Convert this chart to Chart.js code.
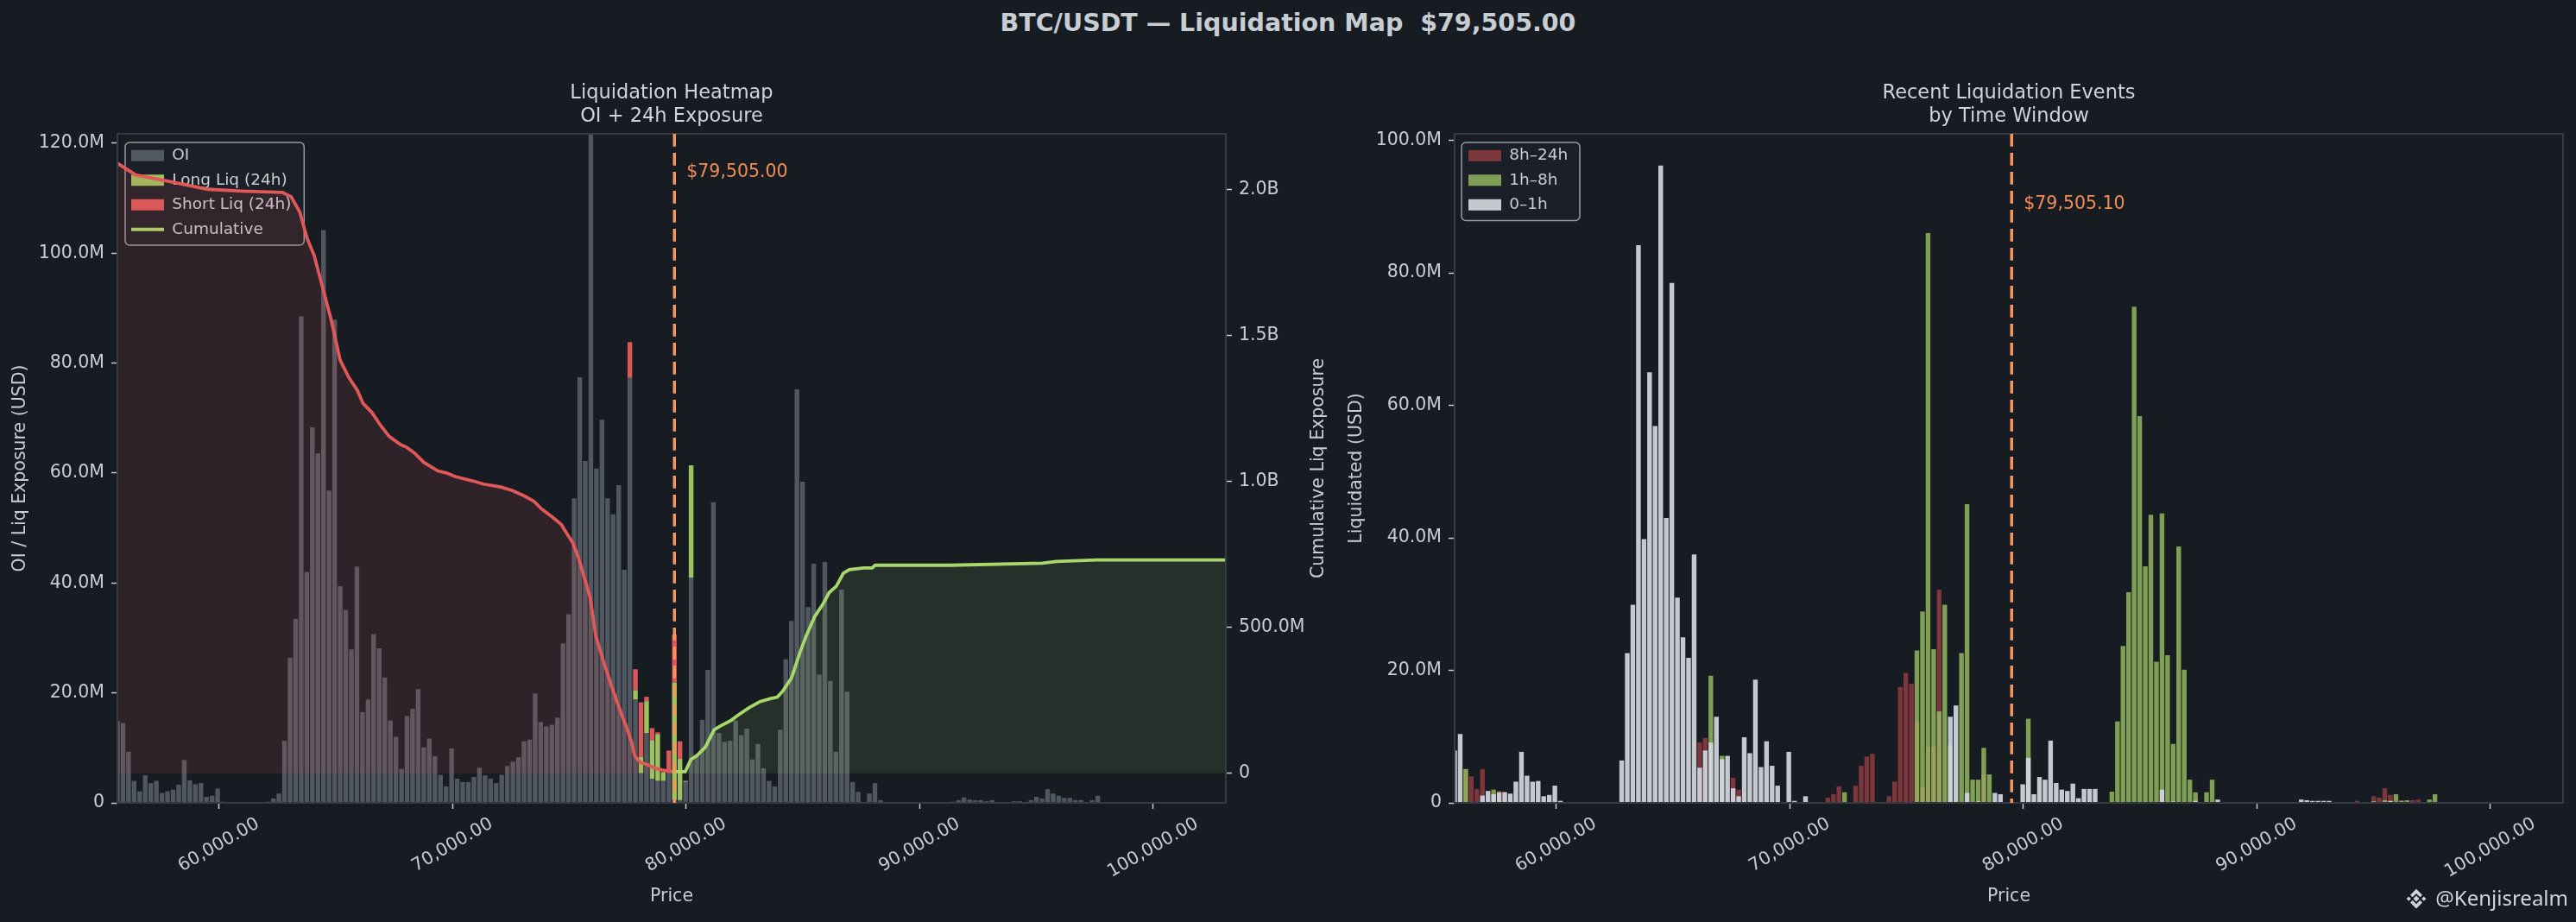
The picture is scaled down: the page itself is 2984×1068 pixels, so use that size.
<!DOCTYPE html>
<html>
<head>
<meta charset="utf-8">
<script src="https://cdn.jsdelivr.net/npm/chart.js@4.4.1/dist/chart.umd.min.js"></script>
<style>
html, body { margin: 0; padding: 0; background: #171b22; }
body { width: 2984px; height: 1068px; position: relative; overflow: hidden; font-family: "DejaVu Sans"; }
#title { position: absolute; left: 0; top: 13px; width: 2984px; text-align: center; white-space: pre;
         font: bold 28.5px/28.5px "DejaVu Sans"; color: #c8cdd4; }
#heat { position: absolute; left: 0; top: 60px; width: 1560px; height: 1008px; }
#events { position: absolute; left: 1540px; top: 60px; width: 1444px; height: 1008px; }
#logo { position: absolute; left: 2785px; top: 1027px; width: 28px; height: 28px; }
#mark { position: absolute; right: 9px; top: 1027.8px; font: 24px/24px "Noto Sans"; color: #d2d4d8; }
</style>
</head>
<body>
<div id="title">BTC/USDT — Liquidation Map  $79,505.00</div>
<canvas id="heat" width="1560" height="1008"></canvas>
<canvas id="events" width="1444" height="1008"></canvas>
<svg id="logo" viewBox="0 0 32 32"><g fill="#d2d4d8">
  <polygon points="16,12 20,16 16,20 12,16"/>
  <polygon points="6,13 9,16 6,19 3,16"/>
  <polygon points="26,13 29,16 26,19 23,16"/>
  <polygon points="16,3 24,11 21,14 16,9 11,14 8,11"/>
  <polygon points="16,29 24,21 21,18 16,23 11,18 8,21"/>
</g></svg>
<div id="mark">@Kenjisrealm</div>
<script>
// price grid shared by both panels (bin start + step)
const binStart = 55653.5
const binStep = 238.5

// open interest per price bin, in M USD
const oiVals = [
  14.9, 14.5, 9.3, 4.0, 2.1, 5.0, 3.6, 4.0, 1.8, 2.1, 2.4, 3.3, 7.8, 4.1, 3.4, 3.6, 1.1, 1.3, 2.6, 0.2,
  0.1, 0, 0, 0, 0, 0, 0, 0.2, 0.8, 1.7, 11.3, 26.4, 33.5, 88.5, 42.0, 68.3, 63.6, 104.2, 56.8, 87.9,
  39.4, 35.1, 27.9, 43.0, 16.5, 18.8, 30.7, 28.1, 22.8, 15.0, 12.0, 6.2, 15.8, 17.1, 20.7, 10.1, 11.7, 8.5, 5.1, 3.0,
  9.9, 4.4, 3.8, 3.8, 4.7, 6.4, 5.0, 4.4, 3.6, 5.1, 6.7, 7.5, 8.3, 11.2, 11.5, 19.9, 14.7, 13.9, 14.2, 15.5,
  29.0, 34.3, 55.4, 77.4, 62.2, 125.0, 60.8, 69.7, 55.4, 52.5, 57.8, 42.4, 77.3, 18.8, 5.4, 12.7, 4.4, 4.0, 4.0, 5.5,
  0.5, 0.5, 3.8, 41.0, 8.9, 15.1, 24.2, 54.7, 12.7, 11.1, 11.3, 15.0, 12.3, 13.5, 7.9, 10.7, 6.3, 4.0, 3.0, 13.3,
  26.1, 33.1, 75.2, 58.4, 35.6, 43.5, 23.3, 43.8, 22.2, 9.3, 38.8, 20.2, 3.8, 2.0, 0, 1.7, 3.6, 0.5, 0, 0,
  0, 0, 0, 0, 0, 0, 0, 0, 0, 0, 0.2, 0.5, 1.0, 0.6, 0.5, 0.5, 0.3, 0.5, 0, 0,
  0, 0.3, 0.3, 0, 0.5, 1.1, 0.8, 2.5, 1.7, 1.3, 0.9, 0.9, 0.5, 0.5, 0, 0.5, 1.3, 0, 0, 0,
  0, 0, 0, 0, 0, 0, 0, 0, 0, 0, 0, 0, 0, 0, 0, 0, 0, 0, 0, 0
]

// 24h liquidations near the price, starting at bin liqStart
const liqStart = 92
const longLiq = [0, 1.7, 3.0, 5.8, 7.0, 8.5, 1.6, 0, 21.4, 7.5, 0.2, 20.4]
const shortLiq = [6.5, 3.8, 9.9, 0.8, 2.2, 0.3, 0, 4.0, 8.7, 3.2, 0, 0]

// cumulative exposure curves (M USD) on the right axis
const shortCumPrice = [55653.5, 56440, 57919, 59520, 60999, 62725, 63095, 63464, 63772, 64080, 64450, 64820,
  65189, 65559, 65929, 66175, 66545, 66915, 67284, 67777, 68024, 68393, 68763, 69379, 69749, 70118, 70858,
  71335, 72074, 72567, 73060, 73491, 73799, 74292, 74661, 74908, 75154, 75400, 75647, 75893, 76140, 76509,
  76879, 77248, 77494, 77679, 77802, 78049, 78357, 78603, 78973, 79403]
const shortCumVal = [2090, 2050, 2027, 2001, 1995, 1990, 1975, 1923, 1834, 1774, 1662, 1550,
  1416, 1357, 1312, 1267, 1237, 1193, 1155, 1126, 1118, 1096, 1066, 1036, 1029, 1017, 1002,
  991, 981, 969, 951, 932, 907, 877, 853, 820, 790, 738, 671, 604, 470, 373,
  283, 201, 149, 105, 60, 38, 30, 20, 12, 6]
const longCumPrice = [79411, 79965, 80213, 80460, 80830, 81199, 81445, 81938, 82184, 82677, 83169, 83662,
  83908, 84155, 84524, 84894, 85140, 85510, 85879, 86126, 86434, 86742, 86988, 87604, 87972, 88095,
  91310, 95252, 95868, 97592, 103115]
const longCumVal = [6, 6, 48, 60, 90, 149, 161, 182, 197, 224, 246, 257,
  261, 283, 328, 418, 470, 537, 582, 619, 641, 686, 698, 704, 704, 713,
  713, 720, 726, 731, 731]

// recent liquidation events per bin, M USD
const ev8to24 = [
  0, 0, 5.1, 4.0, 2.1, 5.1, 0, 0, 1.8, 1.7, 0, 0, 0, 0, 0, 0, 0, 0, 0, 0,
  0, 0, 0, 0, 0, 0, 0, 0, 0, 0, 0, 0, 0, 0, 0, 0, 0, 0, 0, 0,
  0, 0, 0, 0, 9.1, 9.8, 0, 0, 0, 0, 3.8, 2.0, 0, 0, 0, 0, 0, 0, 0, 0,
  0, 0, 0, 0, 0, 0, 0, 0.8, 1.3, 2.5, 0, 0, 2.6, 5.6, 7.0, 7.4, 0, 0, 1.0, 3.2,
  17.5, 19.6, 18.0, 12.3, 2.4, 8.5, 8.5, 32.2, 0, 0, 0, 0, 0, 0, 0, 4.3, 0, 0, 0, 0,
  0, 0, 0, 0, 0, 0, 0, 0, 0, 0, 0, 0, 0, 0, 0, 0, 0, 0, 0, 0,
  0, 0, 0, 0, 0, 0, 0, 0, 0, 0, 0, 0, 0, 0, 0, 0, 0, 0, 0, 0,
  0, 0, 0, 0, 0, 0, 0, 0, 0, 0, 0, 0, 0, 0, 0, 0, 0, 0, 0, 0,
  0, 0, 0.3, 0, 0, 1.0, 0.8, 2.2, 1.2, 0, 0.4, 0, 0.4, 0.5, 0, 0, 0, 0, 0, 0,
  0, 0, 0, 0, 0, 0, 0, 0, 0, 0, 0, 0, 0, 0, 0, 0, 0, 0, 0, 0
]
const ev1to8 = [
  0, 0, 5.1, 0, 0, 0, 0, 2.0, 0, 0, 0, 0, 0, 0, 0, 0, 0, 0, 0, 0,
  0, 0, 0, 0, 0, 0, 0, 0, 0, 0, 0, 0, 0, 0, 0, 0, 0, 0, 0, 0,
  0, 0, 0, 0, 0, 0, 19.2, 0, 7.1, 0, 0, 0, 0, 0, 0, 0, 0, 0, 0, 0,
  0, 0, 0, 0, 0, 0, 0, 0, 0, 0, 1.6, 0, 0, 0, 0, 0, 0, 0, 0, 0,
  0, 0, 0, 23.0, 28.9, 86.0, 23.2, 13.8, 29.9, 8.7, 0, 22.6, 45.1, 3.5, 3.5, 8.3, 4.3, 0, 0, 0,
  0, 0, 0, 12.7, 0, 0, 0, 0, 0, 0, 0, 0, 0, 0, 0, 0, 0, 0, 1.7, 12.3,
  23.7, 31.8, 74.9, 58.4, 35.7, 43.5, 21.3, 43.7, 22.3, 8.9, 38.7, 20.1, 3.5, 1.6, 0, 1.6, 3.5, 0, 0, 0,
  0, 0, 0, 0, 0, 0, 0, 0, 0, 0, 0, 0, 0, 0, 0, 0, 0, 0, 0, 0,
  0, 0, 0, 0, 0, 0, 0, 0.4, 0, 1.3, 0.3, 0.4, 0, 0, 0, 0.5, 1.3, 0, 0, 0,
  0, 0, 0, 0, 0, 0, 0, 0, 0, 0, 0, 0, 0, 0, 0, 0, 0, 0, 0, 0
]
const ev0to1 = [
  7.9, 10.4, 0, 0, 0, 1.1, 1.8, 1.3, 1.6, 1.6, 1.4, 3.2, 7.7, 4.1, 3.2, 3.3, 1.0, 1.2, 2.6, 0.3,
  0.1, 0.1, 0.1, 0, 0, 0, 0, 0, 0, 0, 6.4, 22.6, 29.9, 84.2, 39.8, 65.0, 56.9, 96.2, 43.0, 78.5,
  31.0, 25.0, 21.9, 37.5, 5.3, 7.9, 9.1, 13.0, 6.6, 7.1, 2.2, 1.0, 9.9, 7.5, 18.6, 5.4, 9.3, 5.6, 2.6, 0,
  7.7, 0.3, 0, 1.0, 0, 0, 0, 0, 0, 0, 0, 0, 0, 0, 0, 0, 0, 0, 0, 0,
  0, 0, 0, 0, 0, 0, 0, 0, 0, 13.0, 14.7, 0, 1.5, 0, 0.2, 0, 0, 1.5, 1.3, 0,
  0, 0, 2.8, 6.8, 1.3, 3.9, 3.5, 9.4, 3.0, 2.0, 1.8, 2.9, 0.7, 2.1, 2.1, 2.1, 0, 0, 0, 0,
  0, 0, 0, 0, 0, 0, 0, 2.0, 0, 0.2, 0, 0, 0, 0.3, 0, 0, 0, 0.5, 0.1, 0,
  0, 0, 0, 0, 0, 0, 0, 0, 0, 0, 0.1, 0.1, 0.5, 0.4, 0.3, 0.3, 0.3, 0.3, 0, 0,
  0.1, 0.1, 0, 0, 0, 0.2, 0, 0, 0.3, 0, 0, 0, 0, 0, 0, 0, 0, 0, 0, 0,
  0, 0, 0, 0, 0, 0, 0, 0, 0, 0, 0, 0, 0, 0, 0, 0, 0, 0, 0, 0
]

const markPrice = 79505.00
const lastPrice = 79505.10
const priceTicks = [60000, 70000, 80000, 90000, 100000]
const oiTicks = [0, 20, 40, 60, 80, 100, 120]
const cumTicks = [0, 500, 1000, 1500, 2000]
const eventTicks = [0, 20, 40, 60, 80, 100]

const binPrices = oiVals.map((_, k) => binStart + k * binStep)
const txt = '#c9cdd3'
const font = (size) => ({ family: 'DejaVu Sans', size: size, weight: 'normal' })

function fmtPrice(v) {
  return v.toLocaleString('en-US', { minimumFractionDigits: 2, maximumFractionDigits: 2 })
}
function fmtM(v) {
  if (v === 0) return '0'
  if (v >= 1000) return (v / 1000).toFixed(1) + 'B'
  return v.toFixed(1) + 'M'
}
const binPts = (arr) => arr.map((v, k) => ({ x: binPrices[k], y: v }))
const windowPts = (arr) => arr.map((v, i) => ({ x: binPrices[liqStart + i], y: v }))
const curvePts = (xs, ys) => xs.map((x, i) => ({ x: x, y: ys[i] }))
const fixTicks = (vals) => (scale) => { scale.ticks = vals.map(v => ({ value: v })) }

// legend box, frame, price marker, rotated x labels
const decor = {
  id: 'decor',
  afterLayout(chart, args, opts) {
    // the chartArea legend is reset to top 0, put it inside the plot
    const lg = chart.legend, a = chart.chartArea
    const w = lg.right - lg.left
    lg.left = a.left + opts.legendDx; lg.right = lg.left + w
    lg.top = a.top + opts.legendDy; lg.bottom = a.bottom
  },
  beforeDraw(chart, args, opts) {
    const { ctx, chartArea: a } = chart
    ctx.save()
    ctx.font = '18.5px "DejaVu Sans"'
    const items = chart.legend.legendItems || []
    const tw = Math.max(...items.map(it => ctx.measureText(it.text).width))
    const x = a.left + opts.boxDx, y = a.top + 10
    const w = tw + 69, h = items.length * 28.5 + 5
    ctx.beginPath()
    if (ctx.roundRect) ctx.roundRect(x, y, w, h, 5); else ctx.rect(x, y, w, h)
    ctx.fillStyle = 'rgba(28,32,40,0.85)'
    ctx.fill()
    ctx.lineWidth = 1.5
    ctx.strokeStyle = 'rgba(175,178,184,0.85)'
    ctx.stroke()
    ctx.restore()
  },
  afterDatasetsDraw(chart, args, opts) {
    const { ctx, chartArea: a, scales } = chart
    ctx.save()
    ctx.strokeStyle = '#363a41'
    ctx.lineWidth = 2
    ctx.strokeRect(a.left, a.top, a.right - a.left, a.bottom - a.top)

    const px = scales.x.getPixelForValue(opts.price)
    ctx.setLineDash([14.7, 7.3])
    ctx.strokeStyle = '#f7965c'
    ctx.lineWidth = 3.5
    ctx.beginPath(); ctx.moveTo(px, a.top); ctx.lineTo(px, a.bottom); ctx.stroke()
    ctx.setLineDash([])
    ctx.font = '20.5px "DejaVu Sans"'
    ctx.fillStyle = '#f28c55'
    ctx.textAlign = 'left'
    ctx.textBaseline = 'middle'
    ctx.fillText('$' + fmtPrice(opts.price), px + 14, a.top + opts.labelDy)

    ctx.fillStyle = txt
    ctx.textAlign = 'center'
    scales.x.ticks.forEach(t => {
      const s = fmtPrice(t.value)
      const w = ctx.measureText(s).width
      const hh = w * 0.5 + 20.5 * 0.866
      ctx.save()
      ctx.translate(scales.x.getPixelForValue(t.value), a.bottom + 14 + hh / 2)
      ctx.rotate(-Math.PI / 6)
      ctx.fillText(s, 0, 0)
      ctx.restore()
    })

    if (opts.rightTitle) {
      ctx.save()
      ctx.translate(opts.rightTitleX, (a.top + a.bottom) / 2)
      ctx.rotate(-Math.PI / 2)
      ctx.fillText(opts.rightTitle, 0, 0)
      ctx.restore()
    }
    ctx.restore()
  }
}

const tickGrid = { display: true, drawOnChartArea: false, drawTicks: true, tickLength: 7, tickColor: txt, tickWidth: 1.5, offset: false }
const xScale = {
  type: 'linear', min: binStart, max: binPrices[binPrices.length - 1], offset: false, stacked: true,
  afterBuildTicks: fixTicks(priceTicks),
  ticks: { color: 'rgba(0,0,0,0)', maxRotation: 0, autoSkip: false },
  grid: tickGrid, border: { display: false },
  title: { display: true, text: 'Price', color: txt, font: font(20.5), padding: { top: 4, bottom: 16.7 } },
  afterFit: (s) => { s.height = 138 }
}
const legendLabels = {
  usePointStyle: true, pointStyleWidth: 38, boxHeight: 13, padding: 10, color: txt, font: font(18.5),
  sort: (a, b) => a.datasetIndex - b.datasetIndex
}
const titleFont = { family: 'DejaVu Sans', size: 22.5, weight: 'normal', lineHeight: 1.2 }

new Chart(document.getElementById('heat'), {
  type: 'bar',
  data: {
    datasets: [
      { label: 'OI', data: binPts(oiVals), backgroundColor: 'rgba(139,148,158,0.5)', stack: 'liq', order: 2, pointStyle: 'rect' },
      { label: 'Long Liq (24h)', data: windowPts(longLiq), backgroundColor: '#9cc35e', stack: 'liq', order: 2, pointStyle: 'rect' },
      { label: 'Short Liq (24h)', data: windowPts(shortLiq), backgroundColor: '#da5858', stack: 'liq', order: 2, pointStyle: 'rect' },
      { type: 'line', label: 'Cumulative', data: curvePts(longCumPrice, longCumVal), yAxisID: 'y1', order: 1,
        borderColor: '#a8d86c', borderWidth: 3.8, pointRadius: 0, pointStyle: 'line', tension: 0,
        fill: { value: 0 }, backgroundColor: 'rgba(168,216,108,0.11)' },
      { type: 'line', label: 'Cumulative short', data: curvePts(shortCumPrice, shortCumVal), yAxisID: 'y1', order: 1,
        borderColor: '#e05858', borderWidth: 3.8, pointRadius: 0, pointStyle: 'line', tension: 0,
        fill: { value: 0 }, backgroundColor: 'rgba(224,90,90,0.12)' }
    ]
  },
  options: {
    responsive: false, animation: false, devicePixelRatio: 1,
    layout: { padding: 0 },
    datasets: { bar: { barPercentage: 0.84, categoryPercentage: 1, borderWidth: 0 } },
    scales: {
      x: xScale,
      y: {
        stacked: true, min: 0, max: 121.7,
        afterBuildTicks: fixTicks(oiTicks),
        ticks: { color: txt, font: font(20.5), padding: 8, callback: fmtM },
        grid: tickGrid, border: { display: false },
        title: { display: true, text: 'OI / Liq Exposure (USD)', color: txt, font: font(20.5), padding: { top: 11.7, bottom: 0 } },
        afterFit: (s) => { s.width = 136 }
      },
      y1: {
        position: 'right', min: -101, max: 2191,
        afterBuildTicks: fixTicks(cumTicks),
        ticks: { color: txt, font: font(20.5), padding: 8, callback: fmtM },
        grid: tickGrid, border: { display: false },
        afterFit: (s) => { s.width = 140 }
      }
    },
    plugins: {
      title: { display: true, fullSize: false, text: ['Liquidation Heatmap', 'OI + 24h Exposure'], color: '#d0d3d8', font: titleFont, padding: { top: 34.5, bottom: 6.5 } },
      legend: { position: 'chartArea', align: 'start', labels: Object.assign({}, legendLabels, { filter: (it) => it.datasetIndex !== 4 }) },
      tooltip: { enabled: false },
      decor: { legendDx: 6, legendDy: 6, boxDx: 9, price: markPrice, labelDy: 45, rightTitle: 'Cumulative Liq Exposure', rightTitleX: 1528 }
    }
  },
  plugins: [decor]
})

new Chart(document.getElementById('events'), {
  type: 'bar',
  data: {
    datasets: [
      { label: '8h–24h', data: binPts(ev8to24), backgroundColor: 'rgba(178,70,75,0.65)', order: 3, grouped: false, pointStyle: 'rect' },
      { label: '1h–8h', data: binPts(ev1to8), backgroundColor: 'rgba(153,193,98,0.8)', order: 2, grouped: false, pointStyle: 'rect' },
      { label: '0–1h', data: binPts(ev0to1), backgroundColor: 'rgba(210,214,222,0.93)', order: 1, grouped: false, pointStyle: 'rect' }
    ]
  },
  options: {
    responsive: false, animation: false, devicePixelRatio: 1,
    layout: { padding: { left: 0, top: 0, bottom: 0, right: 15 } },
    datasets: { bar: { barPercentage: 0.84, categoryPercentage: 1, borderWidth: 0 } },
    scales: {
      x: Object.assign({}, xScale, { stacked: false }),
      y: {
        min: 0, max: 101,
        afterBuildTicks: fixTicks(eventTicks),
        ticks: { color: txt, font: font(20.5), padding: 8, callback: fmtM },
        grid: tickGrid, border: { display: false },
        title: { display: true, text: 'Liquidated (USD)', color: txt, font: font(20.5), padding: { top: 19.7, bottom: 0 } },
        afterFit: (s) => { s.width = 145 }
      }
    },
    plugins: {
      title: { display: true, fullSize: false, text: ['Recent Liquidation Events', 'by Time Window'], color: '#d0d3d8', font: titleFont, padding: { top: 34.5, bottom: 6.5 } },
      legend: { position: 'chartArea', align: 'start', labels: legendLabels },
      tooltip: { enabled: false },
      decor: { legendDx: 6, legendDy: 6, boxDx: 8, price: lastPrice, labelDy: 81.6 }
    }
  },
  plugins: [decor]
})
</script>
</body>
</html>
